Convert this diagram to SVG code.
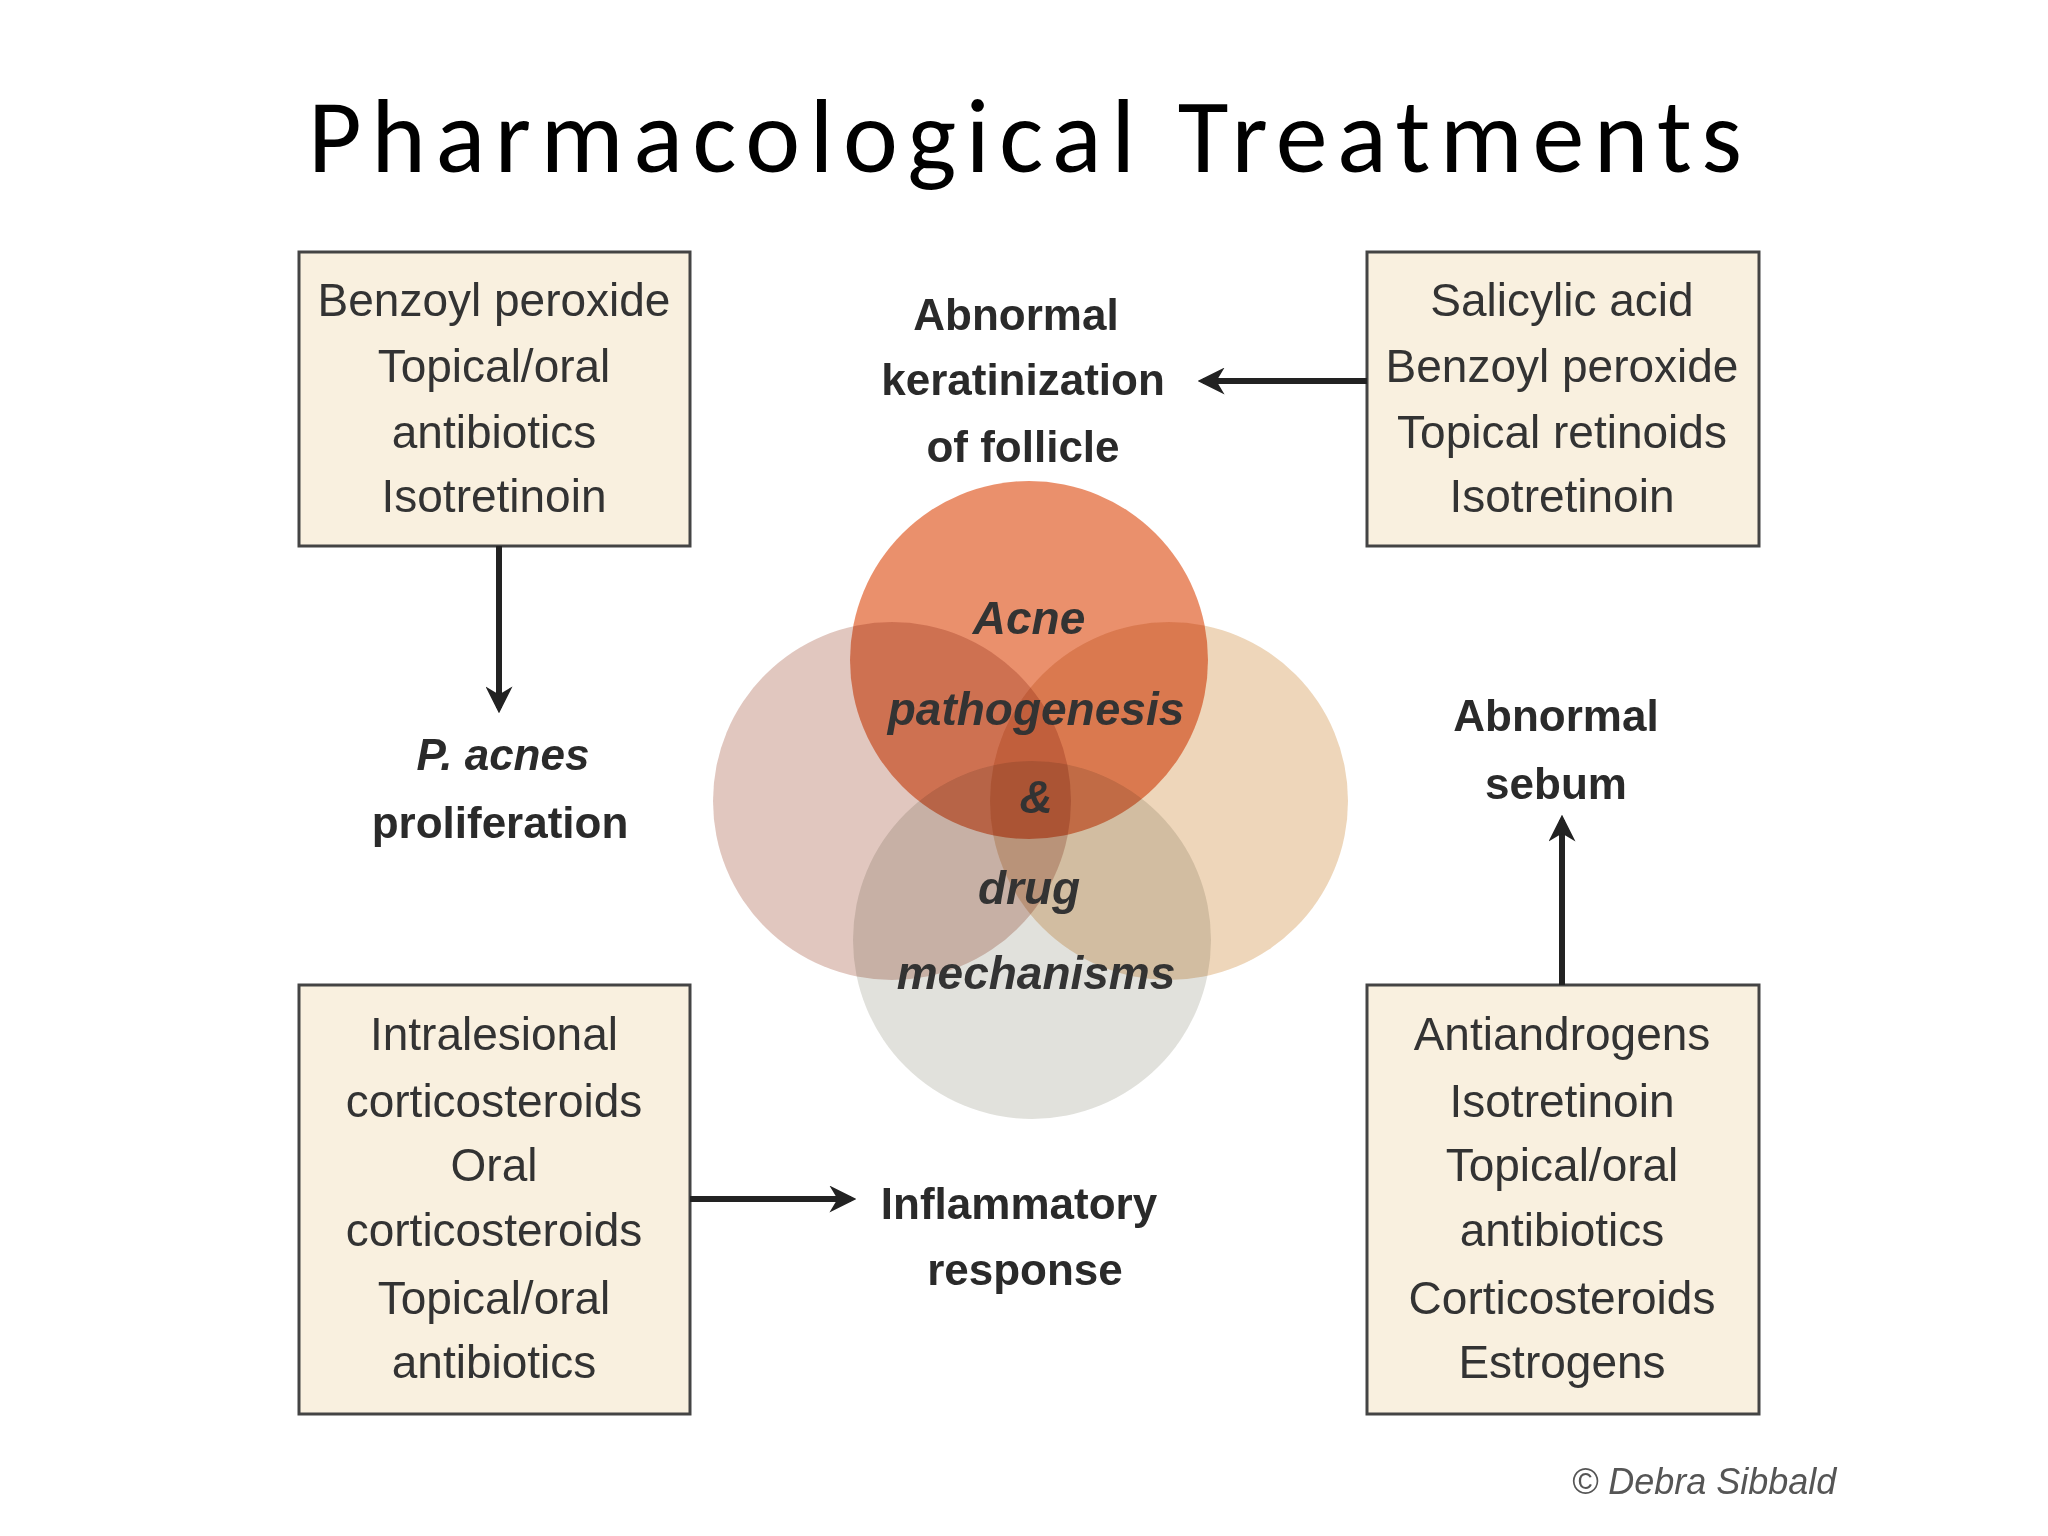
<svg xmlns="http://www.w3.org/2000/svg" width="2048" height="1536" viewBox="0 0 2048 1536">
<style>
.box{fill:#f9f0df;stroke:#444;stroke-width:3}
.bt{font-family:"Liberation Sans",Arial,sans-serif;font-size:46px;fill:#333;text-anchor:middle}
.lb{font-family:"Liberation Sans",Arial,sans-serif;font-size:44px;font-weight:bold;fill:#2a2a2a;text-anchor:middle}
.ct{font-family:"Liberation Sans",Arial,sans-serif;font-size:46px;font-weight:bold;font-style:italic;fill:#333;text-anchor:middle}
.ar{stroke:#222;stroke-width:6;fill:none;marker-end:url(#ah)}
</style>
<defs><marker id="ah" viewBox="0 0 10 10" refX="8" refY="5" markerWidth="4.5" markerHeight="4.5" orient="auto"><path d="M0,0 L10,5 L0,10 L3,5 z" fill="#222"/></marker></defs>
<rect width="2048" height="1536" fill="#fff"/>
<text x="1025" y="172" font-family="Carlito,'Open Sans',sans-serif" font-size="104" text-anchor="middle" textLength="1434" fill="#000">Pharmacological Treatments</text>
<g id="circles" style="isolation:isolate">
<circle cx="892" cy="801" r="179" fill="#dcbdb4" opacity="0.85" style="mix-blend-mode:multiply"/>
<circle cx="1169" cy="801" r="179" fill="#ebcfae" opacity="0.85" style="mix-blend-mode:multiply"/>
<circle cx="1032" cy="940" r="179" fill="#dcdcd6" opacity="0.85" style="mix-blend-mode:multiply"/>
<circle cx="1029" cy="660" r="179" fill="#e8845c" opacity="0.9" style="mix-blend-mode:multiply"/>
</g>
<g id="center">
<text class="ct" x="1029" y="634">Acne</text>
<text class="ct" x="1036" y="725">pathogenesis</text>
<text class="ct" x="1036" y="813">&amp;</text>
<text class="ct" x="1029" y="904">drug</text>
<text class="ct" x="1036" y="989">mechanisms</text>
</g>
<g id="tl"><rect class="box" x="299" y="252" width="391" height="294"/>
<text class="bt" x="494" y="316">Benzoyl peroxide</text><text class="bt" x="494" y="382">Topical/oral</text><text class="bt" x="494" y="448">antibiotics</text><text class="bt" x="494" y="512">Isotretinoin</text></g>
<g id="tr"><rect class="box" x="1367" y="252" width="392" height="294"/>
<text class="bt" x="1562" y="316">Salicylic acid</text><text class="bt" x="1562" y="382">Benzoyl peroxide</text><text class="bt" x="1562" y="448">Topical retinoids</text><text class="bt" x="1562" y="512">Isotretinoin</text></g>
<g id="bl"><rect class="box" x="299" y="985" width="391" height="429"/>
<text class="bt" x="494" y="1050">Intralesional</text><text class="bt" x="494" y="1117">corticosteroids</text><text class="bt" x="494" y="1181">Oral</text><text class="bt" x="494" y="1246">corticosteroids</text><text class="bt" x="494" y="1314">Topical/oral</text><text class="bt" x="494" y="1378">antibiotics</text></g>
<g id="br"><rect class="box" x="1367" y="985" width="392" height="429"/>
<text class="bt" x="1562" y="1050">Antiandrogens</text><text class="bt" x="1562" y="1117">Isotretinoin</text><text class="bt" x="1562" y="1181">Topical/oral</text><text class="bt" x="1562" y="1246">antibiotics</text><text class="bt" x="1562" y="1314">Corticosteroids</text><text class="bt" x="1562" y="1378">Estrogens</text></g>
<g id="labels">
<text class="lb" x="1016" y="330">Abnormal</text><text class="lb" x="1023" y="395">keratinization</text><text class="lb" x="1023" y="462">of follicle</text>
<text class="lb" x="503" y="770" font-style="italic">P. acnes</text><text class="lb" x="500" y="838">proliferation</text>
<text class="lb" x="1556" y="731">Abnormal</text><text class="lb" x="1556" y="799">sebum</text>
<text class="lb" x="1019" y="1219">Inflammatory</text><text class="lb" x="1025" y="1285">response</text>
</g>
<g id="connectors">
<line class="ar" x1="1367" y1="381" x2="1203" y2="381"/>
<line class="ar" x1="499" y1="546" x2="499" y2="708"/>
<line class="ar" x1="690" y1="1199" x2="851" y2="1199"/>
<line class="ar" x1="1562" y1="985" x2="1562" y2="820"/>
</g>
<text x="1704" y="1494" font-family="'Liberation Sans',Arial,sans-serif" font-size="36" font-style="italic" fill="#555" text-anchor="middle">© Debra Sibbald</text>
</svg>
